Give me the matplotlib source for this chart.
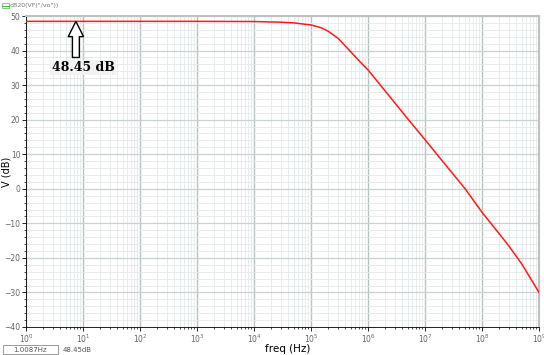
import numpy as np
import matplotlib
matplotlib.use('Agg')
import matplotlib.pyplot as plt
from matplotlib.ticker import LogLocator, MultipleLocator, NullFormatter

# values
freq = [1, 1e3, 1e4, 3e4, 5e4, 1e5, 1.5e5, 2e5, 3e5, 5e5, 7e5, 1e6, 2e6, 5e6,
        1e7, 2e7, 5e7, 1e8, 2e8, 3e8, 5e8, 1e9]
gain_db = [48.45, 48.45, 48.4, 48.2, 48.0, 47.4, 46.6, 45.6, 43.5, 39.6, 37.0, 34.4, 28.3, 20.2,
           14.2, 8.1, 0.1, -6.8, -13.0, -16.7, -21.8, -30.0]
y_ticks = [-40, -30, -20, -10, 0, 10, 20, 30, 40, 50]
decades = list(range(0, 10))
marker_label = "48.45 dB"
legend_name = 'dB20(VF("/vo"))'
cursor_x = "1.0087Hz"
cursor_y = "48.45dB"

fig = plt.figure(figsize=(5.44, 3.55), dpi=100)
ax = fig.add_axes([26/544, 1-327/355, 513/544, 311/355])

ax.semilogx(freq, gain_db, color='#ff1a1a', lw=1.1, zorder=3)
ax.set_xlim(1, 1e9)
ax.set_ylim(-40, 50)

ax.set_xticks([10.0**d for d in decades])
ax.set_xticklabels([r'$10^{%d}$' % d for d in decades])
ax.xaxis.set_minor_locator(LogLocator(base=10, subs=np.arange(2, 10), numticks=100))
ax.xaxis.set_minor_formatter(NullFormatter())
ax.set_yticks(y_ticks)
ax.yaxis.set_minor_locator(MultipleLocator(2))

ax.grid(which='major', axis='x', color='#b9c2c2', lw=1.0)
ax.grid(which='major', axis='y', color='#c9d2d2', lw=0.9)
ax.grid(which='minor', color='#e3eaea', lw=0.6)
ax.set_axisbelow(True)

ax.tick_params(which='major', length=3, width=0.6, labelsize=5.5, labelcolor='#666666', pad=1)
ax.tick_params(which='minor', length=1.5, width=0.5)
for s in ['top', 'right']:
    ax.spines[s].set_color('#c0c0c0')
    ax.spines[s].set_linewidth(1.5)
for s in ['left', 'bottom']:
    ax.spines[s].set_linewidth(0.6)

ax.set_ylabel('V (dB)', fontsize=7)
ax.yaxis.set_label_coords(-14/513, 0.5)
ax.set_xlabel('freq (Hz)', fontsize=7.5)
ax.xaxis.set_label_coords(262/513, -17/311)

# marker arrow and label
ax.annotate('', xy=(7.5, gain_db[0]), xytext=(7.5, 38.0),
            arrowprops=dict(arrowstyle='simple,head_length=0.55,head_width=0.55,tail_width=0.25',
                            mutation_scale=20, fc='white', ec='black', lw=1.0, shrinkA=0, shrinkB=0))
ax.text(10, 35.2, marker_label, fontsize=9, fontweight='bold', family='DejaVu Serif',
        ha='center', va='center',
        bbox=dict(fc='#f2f2f2', ec='none', pad=0.8))

# legend entry at top left
fig.patches.append(plt.Rectangle((2/544, 1-8/355), 7/544, 5/355, transform=fig.transFigure,
                                 fc='white', ec='#66cc66', lw=0.6))
fig.lines.append(plt.Line2D([2/544, 9/544], [1-5.5/355, 1-5.5/355], transform=fig.transFigure,
                            color='#33aa33', lw=0.6))
fig.text(10/544, 1-5.5/355, legend_name, fontsize=4.5, color='#777777', va='center')

# cursor readout boxes
fig.patches.append(plt.Rectangle((3/544, 1-354/355), 55/544, 9/355, transform=fig.transFigure,
                                 fc='white', ec='#888888', lw=0.6))
fig.text(30/544, 1-349.5/355, cursor_x, fontsize=5, color='#555555', ha='center', va='center')
fig.text(77/544, 1-349.5/355, cursor_y, fontsize=5, color='#555555', ha='center', va='center')

fig.savefig('out.png', dpi=100)
